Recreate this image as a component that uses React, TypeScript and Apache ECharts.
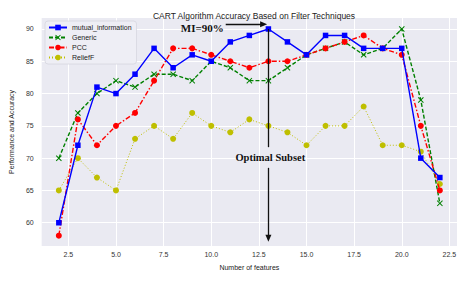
import React, { useEffect, useRef } from "react";
import * as echarts from "echarts";

const features = [2, 3, 4, 5, 6, 7, 8, 9, 10, 11, 12, 13, 14, 15, 16, 17, 18, 19, 20, 21, 22];
const mutualInformation = [60, 72, 81, 80, 83, 87, 84, 86, 85, 88, 89, 90, 88, 86, 89, 89, 87, 87, 87, 70, 67];
const generic = [70, 77, 80, 82, 81, 83, 83, 82, 85, 84, 82, 82, 84, 86, 87, 88, 86, 87, 90, 79, 63];
const pcc = [58, 76, 72, 75, 77, 82, 87, 87, 86, 85, 84, 85, 85, 86, 87, 88, 89, 87, 86, 75, 65];
const reliefF = [65, 70, 67, 65, 73, 75, 73, 77, 75, 74, 76, 75, 74, 72, 75, 75, 78, 72, 72, 71, 66];

const xTicks = [2.5, 5, 7.5, 10, 12.5, 15, 17.5, 20, 22.5];
const yTicks = [60, 65, 70, 75, 80, 85, 90];

// annotation anchors (data coordinates)
const miLabel = "MI=90%";
const miLabelPos = [9.53, 90.2];
const miArrow = [[10.76, 90.75], [12.75, 90.75]];
const optimalLine = [[13, 90], [13, 71.7]];
const optimalArrow = [[13, 68.5], [13, 57.6]];
const optimalLabel = "Optimal Subset";
const optimalLabelPos = [13.1, 70.1];

const SANS = "'Liberation Sans', Arial, sans-serif";
const SERIF = "'Liberation Serif', 'Times New Roman', serif";

const xSymbol =
  "path://M0,1.2L1.2,0L5,3.8L8.8,0L10,1.2L6.2,5L10,8.8L8.8,10L5,6.2L1.2,10L0,8.8L3.8,5Z";

function pairs(ys: number[]) {
  return features.map((x, i) => [x, ys[i]]);
}

export default function App() {
  const ref = useRef<HTMLDivElement>(null);
  useEffect(() => {
    document.body.style.margin = "0";
    if (!ref.current) return;
    const chart = echarts.init(ref.current, undefined, { renderer: "svg" });
    chart.setOption({
      animation: false,
      backgroundColor: "#ffffff",
      title: {
        text: "CART Algorithm Accuracy Based on Filter Techniques",
        left: 249,
        textAlign: "center",
        top: 6,
        textStyle: { fontSize: 8.5, fontWeight: "normal", color: "#222", fontFamily: SANS },
      },
      legend: {
        orient: "vertical",
        left: 45,
        top: 21,
        itemWidth: 18,
        itemHeight: 7,
        itemGap: 3,
        padding: [3, 5, 3, 3],
        backgroundColor: "#eeeef5",
        borderColor: "#d6d6de",
        borderWidth: 0.8,
        borderRadius: 3,
        textStyle: { fontSize: 7, color: "#222", fontFamily: SANS },
        data: ["mutual_information", "Generic", "PCC", "ReliefF"],
      },
      grid: {
        left: 41,
        right: 17,
        top: 18,
        bottom: 36,
        show: true,
        backgroundColor: "#eaeaf2",
        borderWidth: 0,
      },
      xAxis: {
        type: "value",
        min: 1.1,
        max: 22.9,
        name: "Number of features",
        nameLocation: "middle",
        nameGap: 18,
        nameTextStyle: { fontSize: 7, color: "#222", fontFamily: SANS },
        axisLine: { show: false },
        axisTick: { show: false, customValues: xTicks },
        axisLabel: {
          customValues: xTicks,
          formatter: (v: number) => v.toFixed(1),
          fontSize: 7,
          color: "#333",
          margin: 5,
          fontFamily: SANS,
        },
        splitLine: { show: true, lineStyle: { color: "#ffffff", width: 1 } },
      },
      yAxis: {
        type: "value",
        min: 56.4,
        max: 91.7,
        name: "Performance and Accuracy",
        nameLocation: "middle",
        nameGap: 22,
        nameTextStyle: { fontSize: 7, color: "#222", fontFamily: SANS },
        axisLine: { show: false },
        axisTick: { show: false, customValues: yTicks },
        axisLabel: {
          customValues: yTicks,
          fontSize: 7,
          color: "#333",
          margin: 8,
          fontFamily: SANS,
        },
        splitLine: { show: true, lineStyle: { color: "#ffffff", width: 1 } },
      },
      series: [
        {
          name: "mutual_information",
          type: "line",
          data: pairs(mutualInformation),
          symbol: "rect",
          symbolSize: 5.5,
          color: "#0000ff",
          lineStyle: { width: 1.4, color: "#0000ff" },
          itemStyle: { color: "#0000ff" },
          z: 4,
          markLine: {
            silent: true,
            symbol: ["none", "none"],
            label: { show: false },
            lineStyle: { color: "#111", width: 1.3, type: "solid" },
            data: [
              [{ coord: optimalLine[0] }, { coord: optimalLine[1] }],
              [
                { coord: optimalArrow[0], symbol: "none" },
                { coord: optimalArrow[1], symbol: "triangle", symbolSize: [6, 7], symbolRotate: 180 },
              ],
              [
                { coord: miArrow[0], symbol: "none" },
                { coord: miArrow[1], symbol: "triangle", symbolSize: [6, 7], symbolRotate: 270 },
              ],
            ],
          },
          markPoint: {
            silent: true,
            symbol: "circle",
            symbolSize: 1,
            itemStyle: { color: "rgba(0,0,0,0)" },
            label: {
              show: true,
              position: "inside",
              color: "#111",
              fontFamily: SERIF,
              fontWeight: "bold",
              fontSize: 11,
            },
            data: [
              { coord: miLabelPos, label: { formatter: miLabel } },
              { coord: optimalLabelPos, label: { formatter: optimalLabel, fontSize: 10.5 } },
            ],
          },
        },
        {
          name: "Generic",
          type: "line",
          data: pairs(generic),
          symbol: xSymbol,
          symbolSize: 6,
          color: "#008000",
          lineStyle: { width: 1.4, color: "#008000", type: [4, 2] },
          itemStyle: { color: "#008000" },
          z: 3,
        },
        {
          name: "PCC",
          type: "line",
          data: pairs(pcc),
          symbol: "circle",
          symbolSize: 6,
          color: "#ff0000",
          lineStyle: { width: 1.4, color: "#ff0000", type: [5, 2, 1.5, 2] },
          itemStyle: { color: "#ff0000" },
          z: 3,
        },
        {
          name: "ReliefF",
          type: "line",
          data: pairs(reliefF),
          symbol: "circle",
          symbolSize: 6,
          color: "#bfbf00",
          lineStyle: { width: 1, color: "#bfbf00", type: [1, 2] },
          itemStyle: { color: "#bfbf00" },
          z: 2,
        },
      ],
    });
    return () => chart.dispose();
  }, []);
  return <div ref={ref} style={{ width: 474, height: 282 }} />;
}
